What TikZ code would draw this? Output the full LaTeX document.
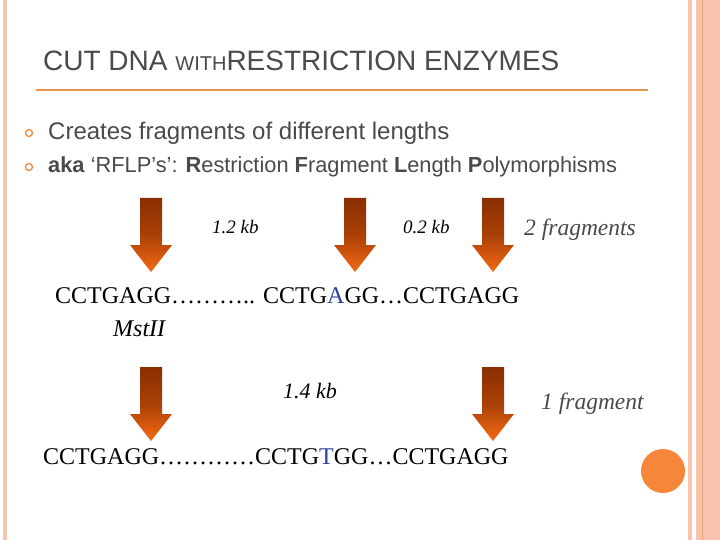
\documentclass[tikz,border=0pt]{standalone}
\usepackage{fontspec}
\setmainfont{Liberation Serif}
\newfontfamily\arialf{Liberation Sans}
\definecolor{salmon}{HTML}{F8C4B0}
\definecolor{salmondk}{HTML}{E8A080}
\definecolor{orng}{HTML}{E8944A}
\definecolor{gry}{HTML}{4A4A4A}
\definecolor{arrtop}{HTML}{8A2E00}
\definecolor{arrbot}{HTML}{F56A14}
\definecolor{dot}{HTML}{F5863A}
\definecolor{dnablue}{HTML}{2E3FA0}
\tikzset{
  dnaarrow/.pic={\shade[top color=arrtop,bottom color=arrbot,middle color=arrtop!70!arrbot]
     (-11,0) -- (11,0) -- (11,47) -- (21,47) -- (0,74) -- (-21,47) -- (-11,47) -- cycle;},
  bul/.style={draw=orng,line width=1.4pt,circle,inner sep=0pt,minimum size=7pt},
  btxt/.style={anchor=west,inner sep=0pt,text=gry,font=\arialf\fontsize{24}{28}\selectfont},
  dna/.style={anchor=west,inner sep=0pt,font=\fontsize{24}{28}\selectfont},
  kb/.style={anchor=west,inner sep=0pt,font=\itshape\fontsize{19}{22}\selectfont},
  frag/.style={anchor=west,inner sep=0pt,text=gry,font=\itshape\fontsize{23.5}{27}\selectfont}
}
\begin{document}
\begin{tikzpicture}[x=1pt,y=-1pt]
\useasboundingbox (0,0) rectangle (720,540);
\fill[white] (0,0) rectangle (720,540);
\fill[salmon] (3,0) rectangle (7,540);
\fill[salmon] (688,0) rectangle (692,540);
\fill[salmon] (696,0) rectangle (720,540);
\draw[salmondk,line width=0.8pt] (702,0) -- (702,540);
\node[anchor=west,inner sep=0pt,text=gry,font=\arialf\fontsize{28}{32}\selectfont] (title) at (43,61)
  {CUT DNA {\fontsize{20}{24}\selectfont WITH}RESTRICTION ENZYMES};
\draw[orng,line width=2.5pt] (36,90) -- (648,90);
\node[bul] (b1) at (29,133) {};
\node[bul] (b2) at (29,167) {};
\node[btxt] (t1) at (48,133) {Creates fragments of different lengths};
\node[btxt,font=\arialf\fontsize{21.8}{25}\selectfont] (t2) at (48,167) {\textbf{aka} ‘RFLP’s’: \textbf{R}estriction \textbf{F}ragment \textbf{L}ength \textbf{P}olymorphisms};
\pic at (151,198) {dnaarrow};
\pic at (355,198) {dnaarrow};
\pic at (493,198) {dnaarrow};
\pic at (151,367) {dnaarrow};
\pic at (493,367) {dnaarrow};
\node[kb] (k1) at (212,227) {1.2 kb};
\node[kb] (k2) at (403,227) {0.2 kb};
\node[frag] (f2) at (524,230) {2 fragments};
\node[dna] (d1) at (55,296) {CCTGAGG……….. CCTG\textcolor{dnablue}{A}GG…CCTGAGG};
\node[dna,font=\itshape\fontsize{24}{28}\selectfont] (mst) at (113,329) {MstII};
\node[kb,font=\itshape\fontsize{22}{26}\selectfont] (k3) at (283,391) {1.4 kb};
\node[frag] (f1) at (541,404) {1 fragment};
\node[dna] (d2) at (43,457) {CCTGAGG…………CCTG\textcolor{dnablue}{T}GG…CCTGAGG};
\fill[dot] (663,471) circle (22);
\end{tikzpicture}
\end{document}
